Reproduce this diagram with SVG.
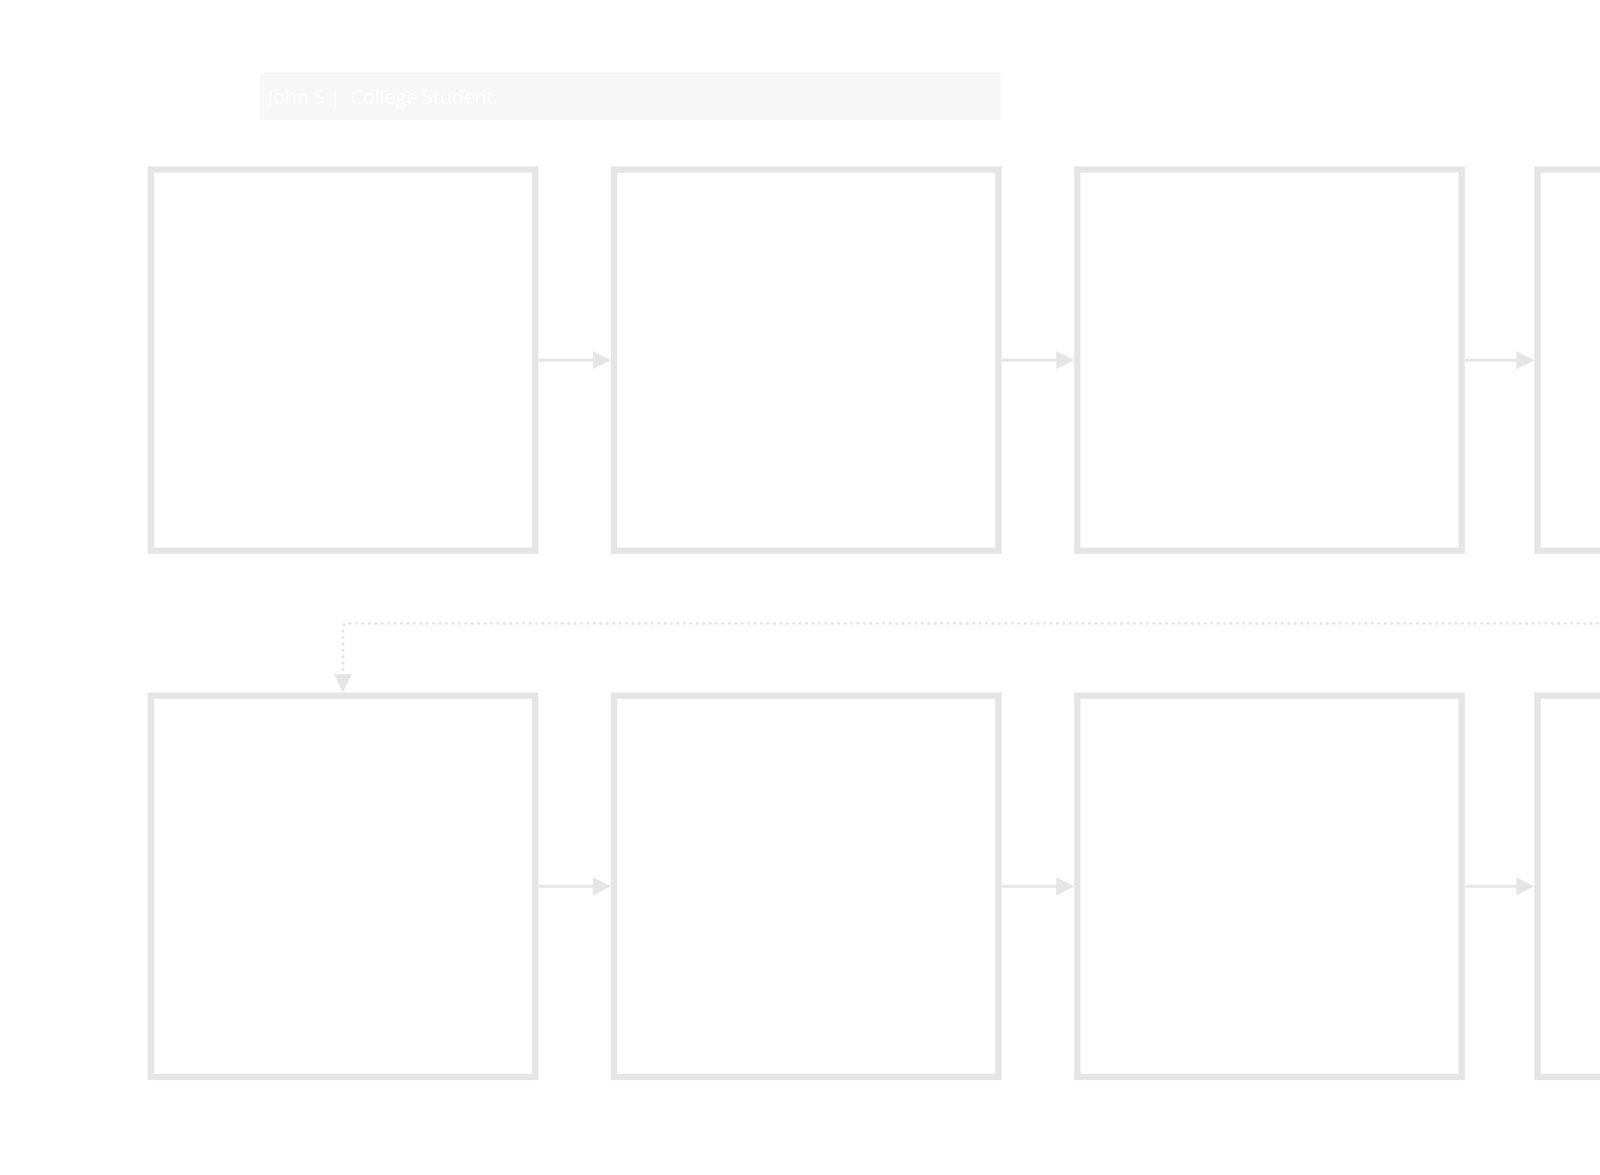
<svg xmlns="http://www.w3.org/2000/svg" width="5318" height="3008" viewBox="0 0 5318 3008">
  <style>
    .box { fill: #ffffff; stroke: #e5e5e5; stroke-width: 16; }
    .link { fill: none; stroke: #e5e5e5; stroke-width: 7; }
    .dotted { fill: none; stroke: #e5e5e5; stroke-width: 7.5; stroke-linecap: round; stroke-dasharray: 0.01 16.45; }
    .title { font-family: "Open Sans", "Noto Sans", "DejaVu Sans", sans-serif; font-size: 50px; fill: #ffffff; }
  </style>
  <defs>
    <marker id="arrow" markerUnits="userSpaceOnUse" markerWidth="46" markerHeight="46" refX="0" refY="23" orient="auto" viewBox="0 0 46 46">
      <path d="M0,0 L46,23 L0,46 Z" fill="#e5e5e5"/>
    </marker>
  </defs>
  <rect x="0" y="0" width="5318" height="3008" fill="#ffffff"/>

  <g id="title">
    <rect x="665" y="186" width="1897" height="121" fill="#f7f7f7"/>
    <text class="title" x="686" y="266" xml:space="preserve">John S |  College Student</text>
  </g>

  <g id="node1"><rect class="box" x="386" y="434" width="984" height="976"/></g>
  <g id="node2"><rect class="box" x="1572" y="434" width="984" height="976"/></g>
  <g id="node3"><rect class="box" x="2758" y="434" width="984" height="976"/></g>
  <g id="node4"><rect class="box" x="3936" y="434" width="984" height="976"/></g>
  <g id="node5"><rect class="box" x="386" y="1781" width="984" height="976"/></g>
  <g id="node6"><rect class="box" x="1572" y="1781" width="984" height="976"/></g>
  <g id="node7"><rect class="box" x="2758" y="1781" width="984" height="976"/></g>
  <g id="node8"><rect class="box" x="3936" y="1781" width="984" height="976"/></g>

  <g id="connectors">
    <line class="link" x1="1379" y1="922" x2="1518" y2="922" marker-end="url(#arrow)"/>
    <line class="link" x1="2565" y1="922" x2="2704" y2="922" marker-end="url(#arrow)"/>
    <line class="link" x1="3751" y1="922" x2="3882" y2="922" marker-end="url(#arrow)"/>
    <path class="dotted" d="M4428,1420 V1586 A10,10 0 0 1 4418,1596 H888 A10,10 0 0 0 878,1606 V1726" marker-end="url(#arrow)"/>
    <line class="link" x1="1379" y1="2269" x2="1518" y2="2269" marker-end="url(#arrow)"/>
    <line class="link" x1="2565" y1="2269" x2="2704" y2="2269" marker-end="url(#arrow)"/>
    <line class="link" x1="3751" y1="2269" x2="3882" y2="2269" marker-end="url(#arrow)"/>
  </g>
</svg>
